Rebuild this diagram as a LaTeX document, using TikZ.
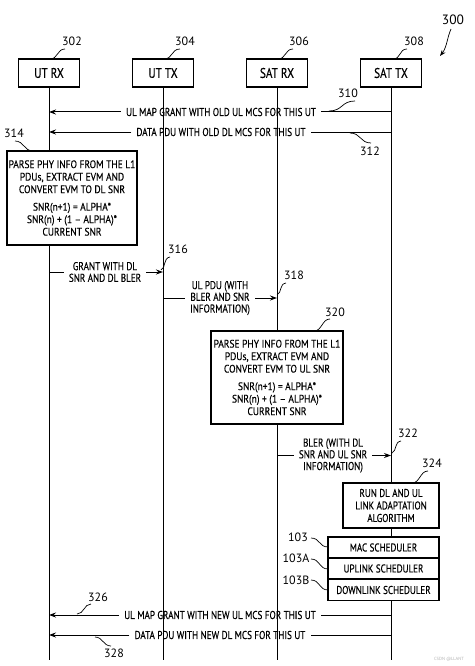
\documentclass[tikz,border=0pt]{standalone}
\usepackage{fontspec}
\setmainfont[FakeStretch=0.8,FakeBold=0.25]{PT Sans}
\newfontfamily\boxfont[FakeStretch=0.86,FakeBold=0.25]{PT Sans}
\newfontfamily\numfont{PT Sans}
\usetikzlibrary{arrows.meta}
\tikzset{
  hdr/.style={draw, line width=1.3pt, fill=white, minimum width=61pt, minimum height=28pt, inner sep=0pt, font=\fontsize{14}{16}\selectfont},
  pbox/.style={draw, line width=1.3pt, fill=white, align=center, inner sep=0pt, font=\fontsize{11.3}{12.5}\selectfont},
  tbox/.style={pbox, font=\boxfont\fontsize{11}{12.5}\selectfont},
  msg/.style={align=center, inner xsep=5pt, inner ysep=1pt, font=\fontsize{11.4}{11.7}\selectfont},
  num/.style={inner sep=0pt, font=\numfont\fontsize{12}{13}\selectfont},
  life/.style={line width=1pt},
  mline/.style={line width=1pt},
  arr/.style={line width=1pt, -{Stealth[length=7pt,width=5pt]}},
  lead/.style={line width=0.7pt}
}
\begin{document}
\begin{tikzpicture}[x=1pt,y=-1pt]
\useasboundingbox (0,0) rectangle (474,666);

% headers
\node[hdr] (utrx) at (49,73) {UT RX};
\node[hdr] (uttx) at (163,73) {UT TX};
\node[hdr] (satrx) at (277,73) {SAT RX};
\node[hdr] (sattx) at (391,73) {SAT TX};
\coordinate (e1) at (49,660);
\coordinate (e2) at (163,660);
\coordinate (e3) at (277,660);
\coordinate (e4) at (391,660);
\draw[life] (utrx.south) -- (e1);
\draw[life] (uttx.south) -- (e2);
\draw[life] (satrx.south) -- (e3);
\draw[life] (sattx.south) -- (e4);

% labels of headers
\node[num] (l302) at (72,41) {302};
\node[num] (l304) at (185,41) {304};
\node[num] (l306) at (299,41) {306};
\node[num] (l308) at (414,41) {308};
\node[num, font=\numfont\fontsize{13.5}{14}\selectfont] (l300) at (453,20) {300};
\draw[lead] (65,49) .. controls (57,49) and (58,59) .. (50,59);
\draw[lead] (180,49) .. controls (171,49) and (173,59) .. (164,59);
\draw[lead] (293,49) .. controls (285,49) and (286,59) .. (278,59);
\draw[lead] (407,49) .. controls (399,49) and (401,59) .. (393,59);
\draw[lead, -{Stealth[length=6pt,width=4.5pt]}] (451,29) .. controls (447,38) and (447,47) .. (440,56);

% message 310
\node[msg] (m310) at (221,112) {UL MAP GRANT WITH OLD UL MCS FOR THIS UT};
\draw[mline] (sattx |- m310) -- (m310.east);
\draw[arr] (m310.west) -- (utrx |- m310);
\node[num] (l310) at (348,93) {310};
\draw[lead] (355,101) .. controls (341,101) and (343,111) .. (329,111);

% message 312
\node[msg] (m312) at (221,132) {DATA PDU WITH OLD DL MCS FOR THIS UT};
\draw[mline] (sattx |- m312) -- (m312.east);
\draw[arr] (m312.west) -- (utrx |- m312);
\node[num] (l312) at (370,151) {312};
\draw[lead] (350,133) .. controls (361,133) and (360,143) .. (371,143);

% box 314
\node[tbox, minimum width=130pt, minimum height=94pt] (b314) at (72,198)
  {PARSE PHY INFO FROM THE L1\\PDUs, EXTRACT EVM AND\\CONVERT EVM TO DL SNR\\[5pt]SNR(n+1) = ALPHA*\\SNR(n) + (1 – ALPHA)*\\CURRENT SNR};
\node[num] (l314) at (14,133) {314};
\draw[lead] (15,141) .. controls (24,141) and (24,151) .. (33,151);

% message 316
\node[msg] (m316) at (105,272) {GRANT WITH DL\\SNR AND DL BLER};
\draw[mline] (utrx |- m316) -- (m316.west);
\draw[arr] (m316.east) -- (uttx |- m316);
\node[num] (l316) at (178,249) {316};
\draw[lead] (170,257) .. controls (163,258) and (166,268) .. (161,270);

% message 318
\node[msg] (m318) at (220,298) {UL PDU (WITH\\BLER AND SNR\\INFORMATION)};
\draw[mline] (uttx |- m318) -- (m318.west);
\draw[arr] (m318.east) -- (satrx |- m318);
\node[num] (l318) at (294,275) {318};
\draw[lead] (286,283) .. controls (279,284) and (282,293) .. (277,295);

% box 320
\node[tbox, minimum width=132pt, minimum height=93pt] (b320) at (277,377.5)
  {PARSE PHY INFO FROM THE L1\\PDUs, EXTRACT EVM AND\\CONVERT EVM TO UL SNR\\[5pt]SNR(n+1) = ALPHA*\\SNR(n) + (1 – ALPHA)*\\CURRENT SNR};
\node[num] (l320) at (335,312) {320};
\draw[lead] (330,319) .. controls (322,319) and (322,331) .. (314,331);

% message 322
\node[msg] (m322) at (333,455.5) {BLER (WITH DL\\SNR AND UL SNR\\INFORMATION)};
\draw[mline] (satrx |- m322) -- (m322.west);
\draw[arr] (m322.east) -- (sattx |- m322);
\node[num] (l322) at (408,433) {322};
\draw[lead] (401,441) .. controls (394,442) and (397,451) .. (392,453);

% box 324
\node[pbox, minimum width=96pt, minimum height=45pt] (b324) at (391,505.5)
  {RUN DL AND UL\\LINK ADAPTATION\\ALGORITHM};
\node[num] (l324) at (432,463) {324};
\draw[lead] (428,471) .. controls (420,471) and (420,483) .. (412,483);

% schedulers
\node[pbox, minimum width=111pt, minimum height=21pt] (s103) at (383.5,547.5) {MAC SCHEDULER};
\node[pbox, minimum width=111pt, minimum height=21pt] (s103a) at (383.5,568.5) {UPLINK SCHEDULER};
\node[pbox, minimum width=111pt, minimum height=21pt] (s103b) at (383.5,590) {DOWNLINK SCHEDULER};
\node[num] (l103) at (298,537) {103};
\node[num] (l103a) at (296,558) {103A};
\node[num] (l103b) at (296,580) {103B};
\draw[lead] (311,538) .. controls (320,538) and (319,547) .. (328,547);
\draw[lead] (311,559) .. controls (320,559) and (319,569) .. (328,569);
\draw[lead] (311,580) .. controls (320,580) and (319,590) .. (328,590);

% message 326
\node[msg] (m326) at (220,615) {UL MAP GRANT WITH NEW UL MCS FOR THIS UT};
\draw[mline] (sattx |- m326) -- (m326.east);
\draw[arr] (m326.west) -- (utrx |- m326);
\node[num] (l326) at (98,597) {326};
\draw[lead] (91,604) .. controls (84,604) and (84,614) .. (77,614);

% message 328
\node[msg] (m328) at (220,635) {DATA PDU WITH NEW DL MCS FOR THIS UT};
\draw[mline] (sattx |- m328) -- (m328.east);
\draw[arr] (m328.west) -- (utrx |- m328);
\node[num] (l328) at (114,653) {328};
\draw[lead] (95,637) .. controls (103,637) and (103,646) .. (111,646);

% watermark
\node[inner sep=0pt, text=black!30, font=\numfont\fontsize{4.5}{5}\selectfont] (wm) at (449,659) {CSDN @LLANT};
\end{tikzpicture}
\end{document}
